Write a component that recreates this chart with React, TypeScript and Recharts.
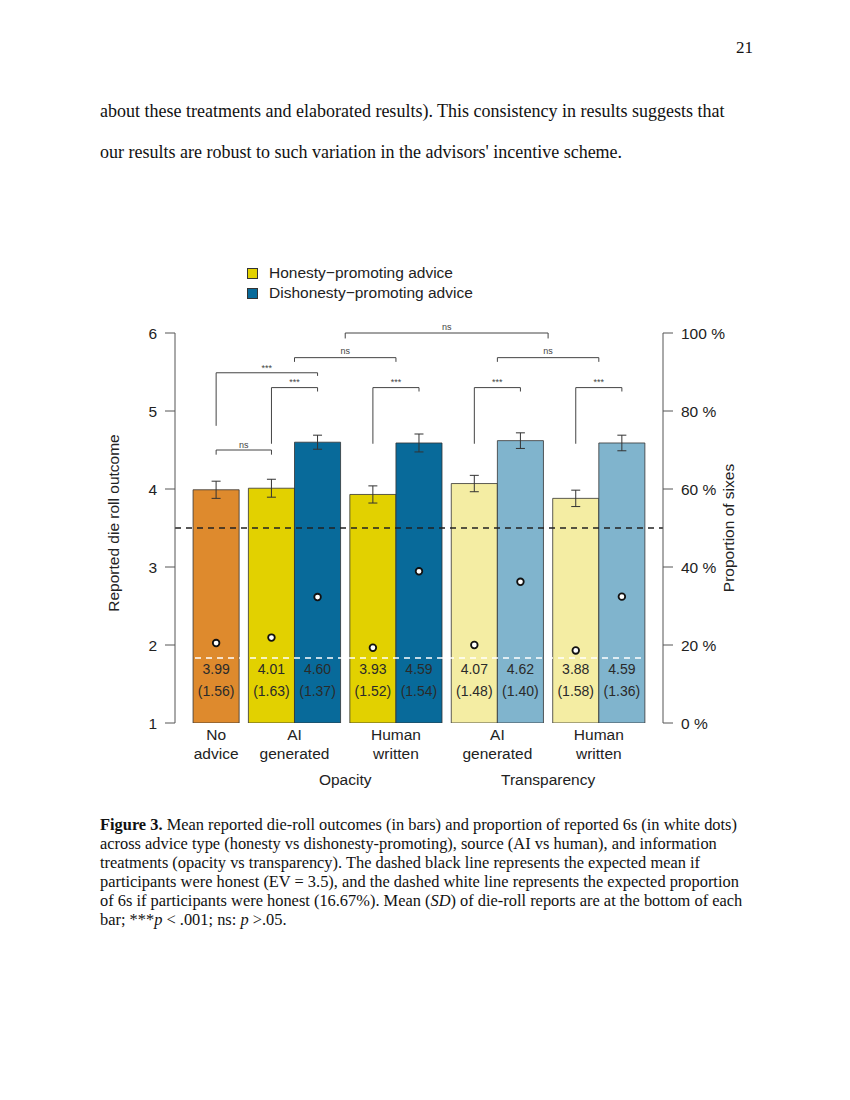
import {
  Bar,
  ComposedChart,
  Cell,
  ErrorBar,
  LabelList,
  Label,
  ReferenceDot,
  ReferenceLine,
  Scatter,
  XAxis,
  YAxis,
} from 'recharts';

// R-style palette: strong colours for opacity, pale ones for transparency.
const COLOR_NONE = '#de8a2d';
const COLOR_HONEST = '#e2d100';
const COLOR_DISHONEST = '#086a9a';
const COLOR_HONEST_PALE = '#f4eda3';
const COLOR_DISHONEST_PALE = '#80b4cd';

// One entry per bar, left to right.
const BAR_GROUP = ['none', 'opAI', 'opAI', 'opHuman', 'opHuman', 'trAI', 'trAI', 'trHuman', 'trHuman'];
const BAR_ADVICE = ['none', 'honest', 'dishonest', 'honest', 'dishonest', 'honest', 'dishonest', 'honest', 'dishonest'];
const MEANS = [3.99, 4.01, 4.6, 3.93, 4.59, 4.07, 4.62, 3.88, 4.59];
const SDS = [1.56, 1.63, 1.37, 1.52, 1.54, 1.48, 1.4, 1.58, 1.36];
const SES = [0.11, 0.115, 0.09, 0.11, 0.115, 0.105, 0.1, 0.105, 0.1];
const SIXES_PCT = [20.5, 21.9, 32.3, 19.3, 38.9, 20.0, 36.2, 18.6, 32.4];

const GROUPS = ['none', 'opAI', 'opHuman', 'trAI', 'trHuman'];
const GROUP_LABELS = [['No', 'advice'], ['AI', 'generated'], ['Human', 'written'], ['AI', 'generated'], ['Human', 'written']];
const CONDITIONS = ['Opacity', 'Transparency'];
const CONDITION_GROUPS = [['opAI', 'opHuman'], ['trAI', 'trHuman']];

const LEFT_TICKS = [1, 2, 3, 4, 5, 6];
const RIGHT_TICKS = [0, 20, 40, 60, 80, 100];
const EXPECTED_MEAN = 3.5;
const EXPECTED_SIXES = 100 / 6;

const LEGEND = [
  { label: 'Honesty\u2212promoting advice', color: COLOR_HONEST },
  { label: 'Dishonesty\u2212promoting advice', color: COLOR_DISHONEST },
];

// Significance brackets: ends refer to a bar index, a group key or a condition name.
const BRACKETS = [
  { from: 'Opacity', to: 'Transparency', y: 6.0, legs: [5.93, 5.93], text: 'ns', textY: 6.08 },
  { from: 'opAI', to: 'opHuman', y: 5.684, legs: [5.63, 5.63], text: 'ns', textY: 5.77 },
  { from: 'trAI', to: 'trHuman', y: 5.684, legs: [5.63, 5.63], text: 'ns', textY: 5.77 },
  { from: 0, to: 2, y: 5.49, legs: [4.81, 5.45], text: '***', textY: 5.56 },
  { from: 1, to: 2, y: 5.3, legs: [4.58, 5.25], text: '***', textY: 5.37 },
  { from: 3, to: 4, y: 5.3, legs: [4.58, 5.25], text: '***', textY: 5.37 },
  { from: 5, to: 6, y: 5.3, legs: [4.58, 5.25], text: '***', textY: 5.37 },
  { from: 7, to: 8, y: 5.3, legs: [4.58, 5.25], text: '***', textY: 5.37 },
  { from: 0, to: 1, y: 4.5, legs: [4.44, 4.44], text: 'ns', textY: 4.57 },
];

const SANS = '"Liberation Sans", Arial, sans-serif';
const SERIF = '"Liberation Serif", "Times New Roman", serif';

// barplot-like layout: bars of width 1, 0.2 space before each new group
const positions: number[] = [];
{
  let cursor = 0;
  BAR_GROUP.forEach((g, i) => {
    if (i === 0 || g !== BAR_GROUP[i - 1]) cursor += 0.2;
    positions.push(cursor + 0.5);
    cursor += 1;
  });
}
const mean = (xs: number[]) => xs.reduce((a, b) => a + b, 0) / xs.length;
const groupCenter = (g: string) => mean(positions.filter((_, i) => BAR_GROUP[i] === g));
const GROUP_CENTERS = GROUPS.map(groupCenter);
const CONDITION_CENTERS = CONDITION_GROUPS.map((gs) =>
  mean(positions.filter((_, i) => gs.includes(BAR_GROUP[i]))),
);
const X_LO = positions[0] - 0.5;
const X_HI = positions[positions.length - 1] + 0.5;
const X_PAD = 0.04 * (X_HI - X_LO);
const X_DOMAIN = [X_LO - X_PAD, X_HI + X_PAD];

const CHART_W = 850;
const CHART_H = 800;
const MARGIN = { top: 333, right: 97, left: 80, bottom: 0 };
const LEFT_AXIS_W = 95;
const RIGHT_AXIS_W = 90;
const PLOT_W = CHART_W - MARGIN.left - MARGIN.right - LEFT_AXIS_W - RIGHT_AXIS_W;
// a hair under one unit, otherwise recharts shrinks bars to 90% of the band
const BAR_PX = PLOT_W / (X_DOMAIN[1] - X_DOMAIN[0]) - 0.05;

function xOf(ref: number | string): number {
  if (typeof ref === 'number') return positions[ref];
  const c = CONDITIONS.indexOf(ref);
  if (c >= 0) return CONDITION_CENTERS[c];
  return groupCenter(ref);
}

function barColor(i: number): string {
  const advice = BAR_ADVICE[i];
  if (advice === 'none') return COLOR_NONE;
  const pale = BAR_GROUP[i].startsWith('tr');
  if (advice === 'honest') return pale ? COLOR_HONEST_PALE : COLOR_HONEST;
  return pale ? COLOR_DISHONEST_PALE : COLOR_DISHONEST;
}

const data = MEANS.map((m, i) => ({
  pos: positions[i],
  mean: m,
  sd: SDS[i],
  se: SES[i],
  sixes: SIXES_PCT[i],
}));

function GroupTick({ x, y, payload }: any) {
  const idx = GROUP_CENTERS.findIndex((c) => Math.abs(c - payload.value) < 1e-6);
  const lines = GROUP_LABELS[idx] ?? [];
  return (
    <g>
      {lines.map((t, k) => (
        <text key={k} x={x} y={y + 9 + k * 19} textAnchor="middle" fontSize={15.5} fill="#222" fontFamily={SANS}>
          {t}
        </text>
      ))}
    </g>
  );
}

function ConditionTick({ x, y, payload }: any) {
  const idx = CONDITION_CENTERS.findIndex((c) => Math.abs(c - payload.value) < 1e-6);
  return (
    <text x={x} y={y + 9} textAnchor="middle" fontSize={15.5} fill="#222" fontFamily={SANS}>
      {CONDITIONS[idx]}
    </text>
  );
}

function BarNumber({ x, y, width, height, value, offset, paren }: any) {
  const text = paren ? `(${Number(value).toFixed(2)})` : Number(value).toFixed(2);
  return (
    <text
      x={x + width / 2}
      y={y + height - offset}
      textAnchor="middle"
      fontSize={14}
      fill="#2a2a2a"
      fontFamily={SANS}
    >
      {text}
    </text>
  );
}

function AxisTitle({ viewBox, text, cx, shift }: any) {
  const cy = viewBox.y + viewBox.height / 2 + (shift ?? 0);
  return (
    <text
      x={cx}
      y={cy}
      transform={`rotate(-90 ${cx} ${cy})`}
      textAnchor="middle"
      dominantBaseline="central"
      fontSize={15.5}
      fill="#222"
      fontFamily={SANS}
    >
      {text}
    </text>
  );
}

function LegendBox() {
  return (
    <div
      style={{
        position: 'absolute',
        left: 247,
        top: 263,
        fontFamily: SANS,
        fontSize: 15.5,
        color: '#222',
        lineHeight: '20px',
        whiteSpace: 'nowrap',
      }}
    >
      {LEGEND.map((l) => (
        <div key={l.label} style={{ display: 'flex', alignItems: 'center' }}>
          <span
            style={{
              display: 'inline-block',
              width: 9,
              height: 9,
              background: l.color,
              border: '1px solid #333',
              marginRight: 11,
            }}
          />
          {l.label}
        </div>
      ))}
    </div>
  );
}

function DiceChart() {
  return (
    <ComposedChart width={CHART_W} height={CHART_H} data={data} margin={MARGIN}>
      <XAxis
        dataKey="pos"
        type="number"
        domain={X_DOMAIN}
        allowDataOverflow
        ticks={GROUP_CENTERS}
        interval={0}
        axisLine={false}
        tickLine={false}
        height={45}
        tick={<GroupTick />}
      />
      <XAxis
        xAxisId="cond"
        dataKey="pos"
        type="number"
        domain={X_DOMAIN}
        allowDataOverflow
        ticks={CONDITION_CENTERS}
        interval={0}
        axisLine={false}
        tickLine={false}
        height={32}
        tick={<ConditionTick />}
      />
      <YAxis
        yAxisId="left"
        domain={[1, 6]}
        ticks={LEFT_TICKS}
        allowDataOverflow
        width={LEFT_AXIS_W}
        tickSize={10}
        tickMargin={8}
        axisLine={{ stroke: '#555' }}
        tickLine={{ stroke: '#555' }}
        tick={{ fill: '#222', fontSize: 15.5, fontFamily: SANS }}
      >
        <Label content={(p: any) => <AxisTitle {...p} text="Reported die roll outcome" cx={113} shift={-5} />} />
      </YAxis>
      <YAxis
        yAxisId="right"
        orientation="right"
        domain={[0, 100]}
        ticks={RIGHT_TICKS}
        allowDataOverflow
        width={RIGHT_AXIS_W}
        tickSize={10}
        tickMargin={8}
        tickFormatter={(v) => `${v} %`}
        axisLine={{ stroke: '#555' }}
        tickLine={{ stroke: '#555' }}
        tick={{ fill: '#222', fontSize: 15.5, fontFamily: SANS }}
      >
        <Label content={(p: any) => <AxisTitle {...p} text="Proportion of sixes" cx={728} />} />
      </YAxis>
      <Bar
        yAxisId="left"
        dataKey="mean"
        barSize={BAR_PX}
        stroke="#333"
        strokeWidth={0.8}
        isAnimationActive={false}
      >
        {data.map((_, i) => (
          <Cell key={i} fill={barColor(i)} />
        ))}
        <ErrorBar dataKey="se" width={4.5} stroke="#333" strokeWidth={1} direction="y" />
        <LabelList dataKey="mean" content={(p: any) => <BarNumber {...p} offset={49} />} />
        <LabelList dataKey="sd" content={(p: any) => <BarNumber {...p} offset={27} paren />} />
      </Bar>
      <ReferenceLine
        yAxisId="left"
        y={EXPECTED_MEAN}
        stroke="#222"
        strokeWidth={1.6}
        strokeDasharray="6 5"
      />
      <ReferenceLine
        yAxisId="right"
        y={EXPECTED_SIXES}
        stroke="#ffffff"
        strokeWidth={1.6}
        strokeDasharray="6 5"
      />
      <Scatter
        yAxisId="right"
        dataKey="sixes"
        isAnimationActive={false}
        shape={(p: any) => <circle cx={p.cx} cy={p.cy} r={3.3} fill="#fff" stroke="#111" strokeWidth={1.8} />}
      />
      {BRACKETS.flatMap((b, i) => {
        const x1 = xOf(b.from);
        const x2 = xOf(b.to);
        return [
          <ReferenceLine key={`h${i}`} yAxisId="left" ifOverflow="visible" stroke="#444" strokeWidth={1}
            segment={[{ x: x1, y: b.y }, { x: x2, y: b.y }]} />,
          <ReferenceLine key={`l${i}`} yAxisId="left" ifOverflow="visible" stroke="#444" strokeWidth={1}
            segment={[{ x: x1, y: b.y }, { x: x1, y: b.legs[0] }]} />,
          <ReferenceLine key={`r${i}`} yAxisId="left" ifOverflow="visible" stroke="#444" strokeWidth={1}
            segment={[{ x: x2, y: b.y }, { x: x2, y: b.legs[1] }]} />,
          <ReferenceDot key={`t${i}`} yAxisId="left" ifOverflow="visible" x={(x1 + x2) / 2} y={b.textY}
            r={0} fill="none" stroke="none"
            label={{ value: b.text, position: 'center', fontSize: 9, fill: '#444', fontFamily: SANS }} />,
        ];
      })}
    </ComposedChart>
  );
}

const BODY_LINES = [
  'about these treatments and elaborated results). This consistency in results suggests that',
  "our results are robust to such variation in the advisors' incentive scheme.",
];

export default function App() {
  return (
    <div style={{ position: 'absolute', left: 0, top: 0, width: 850, height: 1100, background: '#fff', color: '#111' }}>
      <div style={{ position: 'absolute', left: 736, top: 38, fontFamily: SERIF, fontSize: 17, lineHeight: '20px' }}>21</div>
      {BODY_LINES.map((t, i) => (
        <div
          key={i}
          style={{
            position: 'absolute',
            left: 100,
            top: 99 + i * 41,
            fontFamily: SERIF,
            fontSize: 18,
            lineHeight: '24px',
            whiteSpace: 'nowrap',
          }}
        >
          {t}
        </div>
      ))}
      <div style={{ position: 'absolute', left: 0, top: 0 }}>
        <DiceChart />
      </div>
      <LegendBox />
      <div
        style={{
          position: 'absolute',
          left: 100,
          top: 815,
          fontFamily: SERIF,
          fontSize: 16.4,
          lineHeight: '19px',
          whiteSpace: 'nowrap',
        }}
      >
        <div>
          <b>Figure 3.</b> Mean reported die-roll outcomes (in bars) and proportion of reported 6s (in white dots)
        </div>
        <div>across advice type (honesty vs dishonesty-promoting), source (AI vs human), and information</div>
        <div>treatments (opacity vs transparency). The dashed black line represents the expected mean if</div>
        <div>participants were honest (EV = 3.5), and the dashed white line represents the expected proportion</div>
        <div>
          of 6s if participants were honest (16.67%). Mean (<i>SD</i>) of die-roll reports are at the bottom of each
        </div>
        <div>
          bar; ***<i>p</i> &lt; .001; ns: <i>p</i> &gt;.05.
        </div>
      </div>
    </div>
  );
}
